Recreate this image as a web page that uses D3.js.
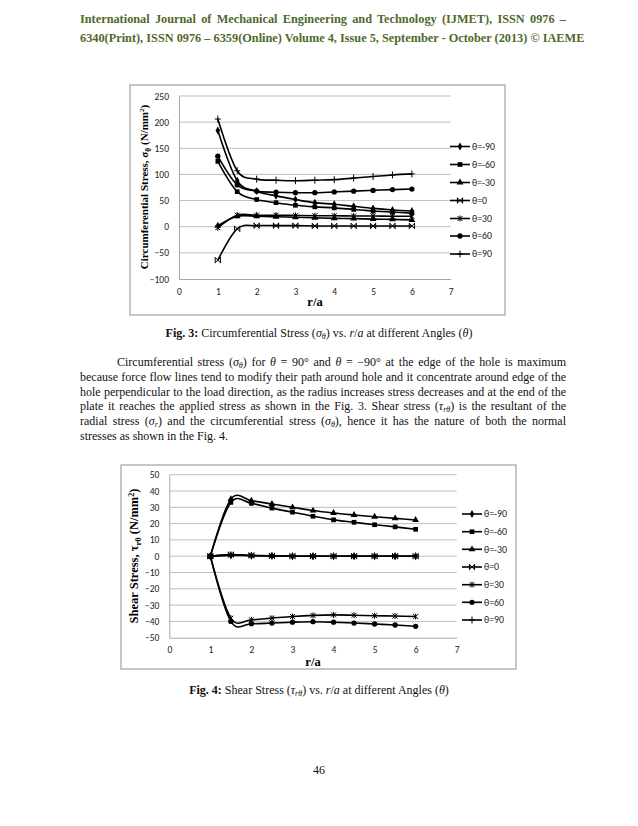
<!DOCTYPE html>
<html><head><meta charset="utf-8">
<script src="https://cdn.jsdelivr.net/npm/d3@7"></script>
<style>
body{margin:0;background:#fff;width:638px;height:826px;overflow:hidden;position:relative;font-family:"Liberation Serif","Times New Roman",serif;color:#111;}
svg{position:absolute;left:0;top:0;}
.ln{position:absolute;left:80px;width:486px;white-space:nowrap;text-align:justify;text-align-last:justify;font-size:12px;line-height:14px;height:14px;}
.last{text-align:left;text-align-last:left;}
.hd{font-weight:bold;color:#4f6a2a;font-size:12.3px;}
.cap{position:absolute;left:0;width:638px;text-align:center;font-size:12px;line-height:14px;}
sub{font-size:8px;vertical-align:-2px;line-height:0;}
</style></head>
<body>
<svg id="page" width="638" height="826"></svg>
<div class="ln hd" style="top:12px">International Journal of Mechanical Engineering and Technology (IJMET), ISSN 0976 –</div>
<div class="ln hd last" style="top:31px">6340(Print), ISSN 0976 – 6359(Online) Volume 4, Issue 5, September - October (2013) © IAEME</div>
<div class="cap" style="top:326px"><b>Fig. 3:</b> Circumferential Stress (<i>σ</i><sub><i>θ</i></sub>) vs. <i>r</i>/<i>a</i> at different Angles (<i>θ</i>)</div>
<div class="ln" style="top:355px;left:117px;width:449px">Circumferential stress (<i>σ</i><sub><i>θ</i></sub>) for <i>θ</i> = 90° and <i>θ</i> = −90° at the edge of the hole is maximum</div>
<div class="ln" style="top:370px">because force flow lines tend to modify their path around hole and it concentrate around edge of the</div>
<div class="ln" style="top:385px">hole perpendicular to the load direction, as the radius increases stress decreases and at the end of the</div>
<div class="ln" style="top:399px">plate it reaches the applied stress as shown in the Fig. 3. Shear stress (<i>τ</i><sub><i>rθ</i></sub>) is the resultant of the</div>
<div class="ln" style="top:414px">radial stress (<i>σ</i><sub><i>r</i></sub>) and the circumferential stress (<i>σ</i><sub><i>θ</i></sub>), hence it has the nature of both the normal</div>
<div class="ln last" style="top:429px">stresses as shown in the Fig. 4.</div>
<div class="cap" style="top:683px"><b>Fig. 4:</b> Shear Stress (<i>τ</i><sub><i>rθ</i></sub>) vs. <i>r</i>/<i>a</i> at different Angles (<i>θ</i>)</div>
<div class="cap" style="top:763px">46</div>
<script>
// ---------- data ----------
const rA = [1, 1.5, 2, 2.5, 3, 3.5, 4, 4.5, 5, 5.5, 6];
const angles = ["θ=-90", "θ=-60", "θ=-30", "θ=0", "θ=30", "θ=60", "θ=90"];
const markerTypes = ["diamond", "square", "triangle", "xbar", "asterisk", "circle", "plus"];
const xTicks = [0, 1, 2, 3, 4, 5, 6, 7];

// Fig. 3 circumferential stress
const sig_m90 = [184, 88, 68, 59, 52, 46, 43, 39, 35, 32, 30];
const sig_m60 = [125, 67, 52, 46, 41, 38, 36, 33, 30, 28, 26];
const sig_m30 = [2, 20, 20, 19, 18, 17, 16, 15.5, 14.5, 14, 13];
const sig_0   = [-64, -4, 2, 2, 2, 1.5, 1.5, 1.5, 1.5, 1.5, 1.5];
const sig_30  = [-2, 22, 22, 22, 21.5, 21, 21, 20.5, 20.5, 20, 20];
const sig_60  = [135, 80, 68, 66, 65, 65, 66.5, 68, 69.5, 71, 72];
const sig_90  = [206, 107, 91, 89, 88, 89, 90, 93, 96, 99, 101];
const sigTicks = [-100, -50, 0, 50, 100, 150, 200, 250];

// Fig. 4 shear stress
const tau_m90 = [0, 0.5, 0.3, 0.2, 0, 0, 0, 0, 0, 0, 0];
const tau_m60 = [0, 33, 32.4, 29.5, 27, 24.5, 22.3, 20.8, 19.3, 18, 16.5];
const tau_m30 = [0, 35, 34, 32, 30, 28, 26.5, 25.3, 24.2, 23.2, 22.2];
const tau_0   = [0, 1, 0.5, 0.2, 0, 0, 0, 0, 0, 0, 0];
const tau_30  = [0, -38, -39, -38, -37, -36.3, -36, -36.2, -36.5, -36.7, -37];
const tau_60  = [0, -40, -41.4, -41, -40.5, -40.2, -40.5, -41, -41.6, -42.2, -43];
const tau_90  = [0, 0.8, 0.4, 0.2, 0, 0, 0, 0, 0, 0, 0];
const tauTicks = [-50, -40, -30, -20, -10, 0, 10, 20, 30, 40, 50];

// ---------- drawing ----------
const svg = d3.select("#page");
const tickFont = "Carlito, Lato, 'Open Sans', sans-serif";

function marker(g, type, x, y) {
  const s = g.append("g").attr("transform", `translate(${x},${y})`);
  const sym = { diamond: [d3.symbolDiamond, 18], square: [d3.symbolSquare, 22], triangle: [d3.symbolTriangle, 20], circle: [d3.symbolCircle, 22] };
  if (sym[type]) {
    s.append("path").attr("d", d3.symbol().type(sym[type][0]).size(sym[type][1])()).attr("fill", "#000");
  } else {
    let d = "";
    if (type === "xbar") d = "M-2.5,-2.5L2.5,2.5M-2.5,2.5L2.5,-2.5M-2.6,-3V3M2.6,-3V3";
    if (type === "asterisk") d = "M-2.5,-2.5L2.5,2.5M-2.5,2.5L2.5,-2.5M0,-3V3";
    if (type === "plus") d = "M-3,0H3M0,-3.5V3.5";
    s.append("path").attr("d", d).attr("stroke", "#000").attr("stroke-width", 1).attr("fill", "none");
  }
}

function drawChart(cfg) {
  const g = svg.append("g");
  g.append("rect").attr("x", cfg.frame[0]).attr("y", cfg.frame[1])
    .attr("width", cfg.frame[2] - cfg.frame[0]).attr("height", cfg.frame[3] - cfg.frame[1])
    .attr("fill", "#fff").attr("stroke", "#a9a9a9").attr("stroke-width", 1.3);
  const x = d3.scaleLinear().domain([0, 7]).range(cfg.xr);
  const y = d3.scaleLinear().domain(cfg.yd).range(cfg.yr);
  g.append("g").selectAll("line").data(cfg.yTicks.slice(1)).join("line")
    .attr("x1", x(0)).attr("x2", x(7)).attr("y1", d => y(d)).attr("y2", d => y(d))
    .attr("stroke", "#bdbdbd").attr("stroke-width", 1);
  const ya = d3.axisLeft(y).tickValues(cfg.yTicks).tickFormat(d3.format("d")).tickSize(0).tickPadding(10);
  const yg = g.append("g").attr("transform", `translate(${x(0)},0)`).call(ya);
  const xa = d3.axisBottom(x).tickValues(xTicks).tickFormat(d3.format("d")).tickSize(0).tickPadding(9);
  const xg = g.append("g").attr("transform", `translate(0,${y(cfg.yd[0])})`).call(xa);
  [yg, xg].forEach(a => {
    a.select(".domain").attr("stroke", "#a6a6a6").attr("stroke-width", 1);
    a.selectAll("text").attr("font-family", tickFont).attr("font-size", 9.5).attr("fill", "#222");
  });
  const line = d3.line().x((d, i) => x(rA[i])).y(d => y(d)).curve(d3.curveCatmullRom.alpha(0));
  cfg.series.forEach(s => {
    g.append("path").attr("d", line(s)).attr("fill", "none").attr("stroke", "#000").attr("stroke-width", 1.6);
  });
  cfg.series.forEach((s, k) => {
    s.forEach((v, i) => marker(g, markerTypes[k], x(rA[i]), y(v)));
  });
  angles.forEach((a, k) => {
    const ly = cfg.legY[k];
    g.append("line").attr("x1", cfg.legX).attr("x2", cfg.legX + 20).attr("y1", ly).attr("y2", ly)
      .attr("stroke", "#000").attr("stroke-width", 1.6);
    marker(g, markerTypes[k], cfg.legX + 10, ly);
    g.append("text").attr("x", cfg.legX + 22).attr("y", ly + 3.3).text(a)
      .attr("font-family", tickFont).attr("font-size", 9.8).attr("fill", "#222");
  });
  g.append("text").attr("x", cfg.xTitle[0]).attr("y", cfg.xTitle[1]).attr("text-anchor", "middle")
    .attr("font-family", "'Liberation Serif', serif").attr("font-weight", "bold").attr("font-size", 12.5).text("r/a");
  const yt = g.append("text").attr("transform", `translate(${cfg.yTitle[0]},${cfg.yTitle[1]}) rotate(-90)`)
    .attr("text-anchor", "middle").attr("font-family", "'Liberation Serif', serif").attr("font-weight", "bold").attr("font-size", cfg.yTitleSize);
  cfg.yTitleParts.forEach(p => {
    const t = yt.append("tspan").text(p[0]);
    if (p[1] === "sub") t.attr("font-size", cfg.yTitleSize * 0.68).attr("baseline-shift", "-3");
    if (p[1] === "sup") t.attr("font-size", cfg.yTitleSize * 0.64).attr("baseline-shift", "4");
  });
}

drawChart({
  frame: [130, 85, 505, 315],
  xr: [179, 450.7], yd: [-100, 250], yr: [279, 96],
  yTicks: sigTicks,
  series: [sig_m90, sig_m60, sig_m30, sig_0, sig_30, sig_60, sig_90],
  legX: 450, legY: [146.5, 164.5, 182.5, 200.5, 218.5, 236, 254],
  xTitle: [315, 306], yTitle: [148, 187], yTitleSize: 11,
  yTitleParts: [["Circumferential Stress, σ"], ["θ", "sub"], [" (N/mm"], ["2", "sup"], [")"]]
});
drawChart({
  frame: [121, 465, 516, 669],
  xr: [169.3, 456.7], yd: [-50, 50], yr: [637.7, 474.7],
  yTicks: tauTicks,
  series: [tau_m90, tau_m60, tau_m30, tau_0, tau_30, tau_60, tau_90],
  legX: 462, legY: [514, 531.7, 549.3, 567, 584.7, 602.3, 620],
  xTitle: [313, 666], yTitle: [138, 556], yTitleSize: 12.5,
  yTitleParts: [["Shear Stress, τ"], ["rθ", "sub"], [" (N/mm"], ["2", "sup"], [")"]]
});
</script>
</body></html>
